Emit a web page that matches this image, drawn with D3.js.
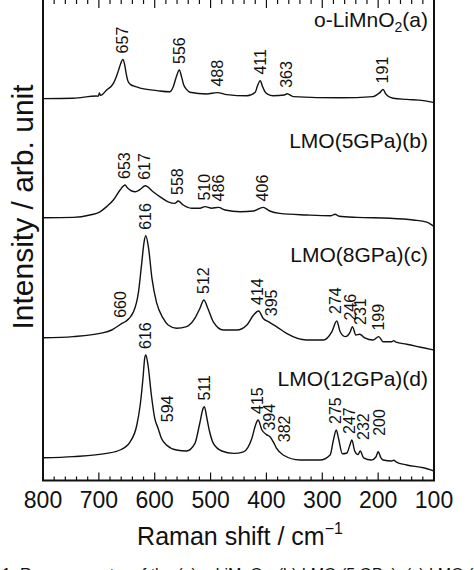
<!DOCTYPE html>
<html>
<head>
<meta charset="utf-8">
<script src="https://cdn.jsdelivr.net/npm/d3@7"></script>
<style>
  body { margin: 0; background: #fff; }
  svg { display: block; font-family: "Liberation Sans", Arial, sans-serif; }
</style>
</head>
<body>
<svg id="chart" width="474" height="570"></svg>
<script>
// Raman spectra: [shift (cm-1), intensity (arb.)]
const specA = [[800,5.6],[746,5.7],[704,6.25],[701,6.2],[699,7.0],[697,6.4],[686,7.75],[674,9.4],[670,10.6],[665,12.6],[661,14.3],[657,15.4],[654,14.2],[651,11.8],[648,10.0],[643,9.1],[634,8.6],[626,8.2],[596,7.6],[573,7.3],[567,8.5],[561,11.2],[556,12.75],[552,11.1],[548,9.0],[543,7.9],[537,7.2],[507,6.75],[488,7.1],[471,6.6],[435,6.3],[420,7.2],[416,8.8],[411,10.1],[407,8.6],[403,7.4],[398,6.7],[388,6.3],[368,6.5],[363,6.8],[352,6.1],[268,5.8],[209,6.1],[197,7.1],[191,7.9],[187,6.9],[182,6.2],[173,5.7],[149,5.4],[119,5.1],[100,4.6]];
const specB = [[800,5.8],[746,5.9],[716,6.5],[698,7.3],[686,8.6],[674,10.25],[662,12.75],[653,14.0],[649,13.3],[635,12.3],[626,12.9],[617,13.8],[603,12.3],[591,11.1],[576,9.8],[564,9.4],[558,10.0],[549,9.0],[534,8.2],[519,8.2],[510,8.6],[498,8.2],[486,8.4],[474,7.75],[447,7.3],[423,7.5],[406,8.4],[394,7.5],[376,6.9],[328,6.5],[285,6.3],[277,6.7],[270,6.2],[238,5.9],[179,5.7],[137,5.25],[113,4.7],[100,3.6]];
const specC = [[800,5.8],[746,6.1],[698,6.9],[677,7.75],[664,8.9],[660,9.3],[653,9.8],[638,12.3],[629,17.3],[623,24.8],[619,29.8],[616,31.3],[611,28.2],[605,20.7],[597,14.8],[585,10.7],[576,9.0],[561,8.2],[543,8.6],[528,10.7],[519,13.2],[512,15.25],[505,13.2],[495,9.8],[477,7.75],[453,7.75],[435,9.0],[423,11.5],[414,12.5],[406,10.7],[395,9.7],[382,8.6],[364,6.9],[328,5.25],[298,5.25],[283,7.3],[274,10.0],[268,7.3],[259,6.1],[250,7.3],[246,8.6],[240,6.5],[233,6.7],[224,5.8],[209,5.25],[199,6.1],[191,4.8],[176,4.8],[172,5.1],[168,4.7],[149,4.2],[119,3.3],[100,2.75]];
const specD = [[800,5.8],[746,6.1],[686,6.9],[662,7.75],[644,9.8],[632,14.0],[626,19.0],[621,25.7],[618,30.6],[616,31.5],[612,29.0],[606,21.5],[600,15.7],[594,13.2],[588,10.7],[579,9.0],[561,7.75],[543,7.5],[528,9.4],[520,14.0],[513,18.3],[511,18.6],[507,16.0],[502,12.5],[495,9.4],[480,7.5],[459,6.9],[441,7.3],[426,10.7],[419,14.2],[415,15.25],[408,12.75],[400,11.6],[394,11.1],[387,9.6],[382,8.2],[370,6.5],[340,5.25],[304,5.25],[286,6.5],[280,10.3],[275,12.75],[271,10.7],[264,6.8],[256,7.0],[251,8.8],[247,10.25],[242,7.5],[236,6.6],[232,7.5],[226,5.8],[212,5.25],[204,6.0],[200,7.3],[195,5.8],[191,5.25],[176,5.0],[172,5.2],[168,4.8],[149,4.0],[119,3.3],[100,2.5]];

const spectra = [specA, specB, specC, specD];
const offsets = [90, 60, 30, 0];

const sampleNames = ["o-LiMnO", "LMO(5GPa)(b)", "LMO(8GPa)(c)", "LMO(12GPa)(d)"];

const peaksA = [657, 556, 488, 411, 363, 191];
const peaksB = [653, 617, 558, 510, 486, 406];
const peaksC = [660, 616, 512, 414, 395, 274, 246, 231, 199];
const peaksD = [616, 594, 511, 415, 394, 382, 275, 247, 232, 200];
const peaks = [peaksA, peaksB, peaksC, peaksD];

const xTicks = [800, 700, 600, 500, 400, 300, 200, 100];

// layout tweaks for crowded labels (pixels)
const nudge = {
  "2-395": [3, 0], "2-274": [-1, -1], "2-246": [-2, 0], "2-231": [0, -4], "2-414": [-1, 0],
  "3-594": [10, 0], "3-382": [8, 0], "3-275": [-1, 0], "3-247": [-2, 0],
  "3-232": [3, -5], "3-200": [2, -10]
};

const svg = d3.select("#chart");
const plotL = 43, plotR = 434, plotT = -1, plotB = 480.5;

const x = d3.scaleLinear().domain([800, 100]).range([plotL, plotR]);
const y = d3.scaleLinear().domain([0, 120]).range([481, 1]);

// spectra
const line = d3.line()
  .x(d => x(d[0]))
  .y(d => d[1])
  .curve(d3.curveMonotoneX);

spectra.forEach((s, i) => {
  const pts = s.map(d => [d[0], y(d[1] + offsets[i])]);
  svg.append("path")
    .attr("d", line(pts))
    .attr("fill", "none")
    .attr("stroke", "#111")
    .attr("stroke-width", 1.4)
    .attr("stroke-linejoin", "round");
});

// value of spectrum at a given shift (linear between read points)
function valueAt(s, v) {
  for (let k = 0; k < s.length - 1; k++) {
    const a = s[k], b = s[k + 1];
    if (v <= a[0] && v >= b[0]) {
      const t = (a[0] - v) / (a[0] - b[0]);
      return a[1] + t * (b[1] - a[1]);
    }
  }
  return s[s.length - 1][1];
}

// peak labels
peaks.forEach((list, i) => {
  list.forEach(p => {
    const nd = nudge[i + "-" + p] || [0, 0];
    const px = x(p) - 0.5 + nd[0];
    const py = y(valueAt(spectra[i], p) + offsets[i]) - 6 + nd[1];
    svg.append("text")
      .attr("transform", "translate(" + px + "," + py + ") rotate(-90)")
      .attr("dy", "0.36em")
      .attr("font-size", 16)
      .attr("fill", "#111")
      .text(p);
  });
});

// sample names
const nameY = [27, 148, 262, 386];
sampleNames.forEach((n, i) => {
  const t = svg.append("text")
    .attr("x", 428)
    .attr("y", nameY[i])
    .attr("text-anchor", "end")
    .attr("font-size", 21)
    .attr("fill", "#111");
  if (i === 0) {
    t.append("tspan").text(n);
    t.append("tspan").attr("font-size", 14).attr("dy", 5).text("2");
    t.append("tspan").attr("dy", -5).text("(a)");
  } else {
    t.text(n);
  }
});

// frame
svg.append("rect")
  .attr("x", plotL).attr("y", plotT)
  .attr("width", plotR - plotL).attr("height", plotB - plotT)
  .attr("fill", "none")
  .attr("stroke", "#111")
  .attr("stroke-width", 2);

// ticks, inward on bottom and top
const minor = d3.range(800, 99, -20);
minor.forEach(v => {
  const major = v % 100 === 0;
  const len = major ? 8 : 4;
  svg.append("line")
    .attr("x1", x(v)).attr("x2", x(v))
    .attr("y1", plotB).attr("y2", plotB - len)
    .attr("stroke", "#111").attr("stroke-width", 1.2);
  svg.append("line")
    .attr("x1", x(v)).attr("x2", x(v))
    .attr("y1", plotT).attr("y2", plotT + len + 1)
    .attr("stroke", "#111").attr("stroke-width", 1.2);
});

svg.selectAll(".xlab")
  .data(xTicks)
  .enter()
  .append("text")
  .attr("class", "xlab")
  .attr("x", d => x(d))
  .attr("y", 508)
  .attr("text-anchor", "middle")
  .attr("font-size", 23)
  .attr("fill", "#111")
  .text(d => d);

// axis titles
const xt = svg.append("text")
  .attr("x", 240)
  .attr("y", 545)
  .attr("text-anchor", "middle")
  .attr("font-size", 25)
  .attr("fill", "#111");
xt.append("tspan").text("Raman shift / cm");
xt.append("tspan").attr("font-size", 16).attr("dy", -11).text("\u22121");

svg.append("text")
  .attr("transform", "translate(22,207) rotate(-90)")
  .attr("text-anchor", "middle")
  .attr("dy", "0.35em")
  .attr("font-size", 30)
  .attr("fill", "#111")
  .text("Intensity / arb. unit");

// caption, cut by the bottom edge as in the source page
svg.append("text")
  .attr("x", -29)
  .attr("y", 580)
  .attr("font-size", 16)
  .attr("fill", "#111")
  .text("Fig. 1. Raman spectra of the (a) o-LiMnO\u2082, (b) LMO (5 GPa), (c) LMO (8 GPa) and (d) LMO (12 GPa).");
</script>
</body>
</html>
